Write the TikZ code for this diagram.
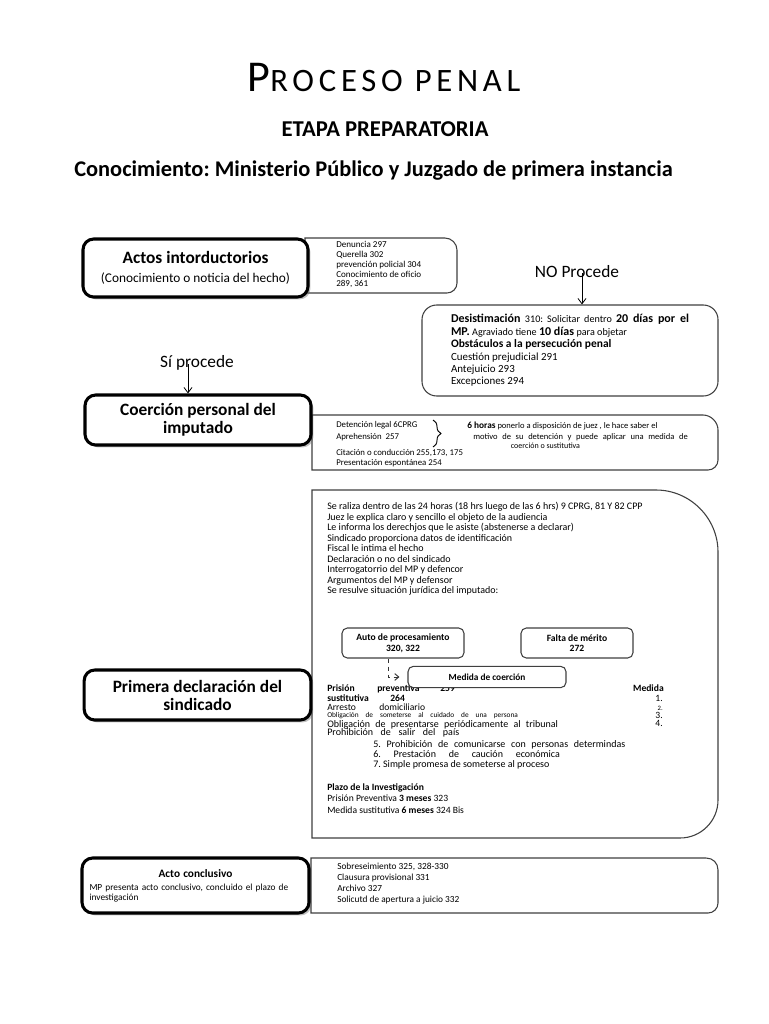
\documentclass[tikz,border=0pt]{standalone}
\usepackage{fontspec}
\setmainfont{Carlito}
\newfontfamily\titlefont[LetterSpace=14.5]{Carlito}
\usetikzlibrary{shadows,arrows.meta,decorations.pathreplacing}
\newcommand\myfs[2]{\fontsize{#1}{#2}\selectfont}
\frenchspacing
\begin{document}
\frenchspacing
\begin{tikzpicture}[x=0.75pt,y=-0.75pt,
  leftbox/.style={draw=black, line width=2.3pt, rounded corners=8pt, fill=white,
    drop shadow={shadow xshift=1.8pt, shadow yshift=-1.8pt, opacity=0.4, fill=black!60},
    align=center, inner sep=0pt},
  gline/.style={draw=black!75, line width=0.8pt},
  smallbox/.style={draw=black!75, line width=0.8pt, rounded corners=4pt, fill=white,
    align=center, inner sep=0pt, font={\bfseries\myfs{7.2}{8}}},
  txt/.style={inner sep=0pt, align=left},
  arr/.style={-{Straight Barb[length=4pt,width=6pt]}, line width=0.6pt},
  darr/.style={dashed, draw=black!80, line width=0.7pt, -{Straight Barb[length=3pt,width=5pt]}},
  pb/.style={inner sep=0pt, anchor=base west, font={\bfseries\myfs{7.2}{8}}},
  pr/.style={inner sep=0pt, anchor=base west, font=\myfs{7.2}{8}}
]
\useasboundingbox (0,0) rectangle (768,1024);
\fill[white] (0,0) rectangle (768,1024);

% titles
\node[anchor=base, inner sep=0pt] (title) at (384,92) {\titlefont\myfs{33}{33}P\myfs{24.5}{24.5}ROCESO PENAL};
\node[anchor=base, inner sep=0pt, font={\bfseries\myfs{17}{19}}] (etapa) at (385,137) {ETAPA PREPARATORIA};
\node[anchor=base, inner sep=0pt, font={\bfseries\myfs{16.8}{19}}] (conoc) at (373.5,176) {Conocimiento: Ministerio Público y Juzgado de primera instancia};

% ---------- detail boxes (drawn first) ----------
\draw[gline, fill=white] (305,238) -- (445,238) .. controls (451.5,238) and (457,243.5) .. (457,250)
  -- (457,283) .. controls (457,288.5) and (452.5,293) .. (447,293) -- (305,293) -- cycle;
\node[txt, anchor=north west, font=\myfs{6.8}{7.4}] (actoslist) at (336,241)
  {Denuncia 297\\Querella 302\\prevención policial 304\\Conocimiento de oficio\\289, 361};

\draw[gline, fill=white] (312,415) -- (703,415) .. controls (711,415) and (718,422) .. (718,430)
  -- (718,460) .. controls (718,465.5) and (713.5,470) .. (708,470) -- (312,470) -- cycle;
\node[pr, font=\myfs{6.6}{8}] (coerA1) at (336,427.5) {Detención legal 6CPRG};
\node[pr, font=\myfs{6.6}{8}] (coerA2) at (336,439.5) {Aprehensión\ \ 257};
\draw[line width=0.7pt, decorate, decoration={brace, amplitude=6pt}] (433,420) -- (433,447);
\node[pr, font=\myfs{6.4}{8}] (coerB) at (467,428)
  {{\bfseries\myfs{7}{8}6 horas} ponerlo a disposición de juez , le hace saber el};
\node[pr, font=\myfs{6.4}{8}] (coerC) at (473,439.5)
  {\makebox[161pt][s]{motivo de su detención y puede aplicar una medida de}};
\node[inner sep=0pt, anchor=base, font=\myfs{6}{8}] (coerD) at (545.5,448) {coerción o sustitutiva};
\node[pr, font=\myfs{6.6}{8}] (coerE1) at (336,455.5) {Citación o conducción 255,173, 175};
\node[pr, font=\myfs{6.6}{8}] (coerE2) at (336,465.5) {Presentación espontánea 254};

% big box
\draw[gline, fill=white] (312,490) -- (656,490) .. controls (690,490) and (718,518) .. (718,552)
  -- (718,800) .. controls (718,821) and (701,838) .. (680,838) -- (312,838) -- cycle;
\node[txt, anchor=north west, font=\myfs{7.5}{7.9}] (declist) at (327,502)
  {Se raliza dentro de las 24 horas (18 hrs luego de las 6 hrs) 9 CPRG, 81 Y 82 CPP\\
   Juez le explica claro y sencillo el objeto de la audiencia\\
   Le informa los derechjos que le asiste (abstenerse a declarar)\\
   Sindicado proporciona datos de identificación\\
   Fiscal le intima el hecho\\
   Declaración o no del sindicado\\
   Interrogatorrio del MP y defencor\\
   Argumentos del MP y defensor\\
   Se resulve situación jurídica del imputado:};

\node[smallbox, minimum width=91.5pt, minimum height=22.5pt] (auto) at (403,643) {Auto de procesamiento\\320, 322};
\node[smallbox, minimum width=84pt, minimum height=22.5pt] (falta) at (577,643) {Falta de mérito\\272};

% prision block
\node[pb] (p1a) at (327,691) {Prisión};
\node[pb] (p1b) at (377,691) {preventiva};
\node[pb] (p1c) at (440,691) {259};
\node[pb, anchor=base east] (p1d) at (664,691) {Medida};
\node[smallbox, minimum width=118.5pt, minimum height=16pt, font={\bfseries\myfs{7}{8}}] (medida) at (487,677) {Medida de coerción};
\coordinate (dx) at (388,0);
\draw[darr] (auto.south -| dx) |- ([xshift=-6pt]medida.west);

\node[pb] (p2a) at (327,701.5) {sustitutiva};
\node[pb] (p2b) at (390,701.5) {264};
\node[pr, anchor=base east] (n1) at (663,701.5) {1.};
\node[pr] (p3a) at (327,710) {Arresto};
\node[pr] (p3b) at (379,710) {domiciliario};
\node[pr, anchor=base east, font=\myfs{5}{6}] (n2) at (663,710) {2.};
\node[pr, font=\myfs{5.5}{6.5}] (p4) at (327,717.5) {\makebox[143pt][s]{Obligación de someterse al cuidado de una persona}};
\node[pr, anchor=base east] (n3) at (663,718.5) {3.};
\node[pr, font=\myfs{7.5}{8}] (p5) at (327,727) {\makebox[173pt][s]{Obligación de presentarse periódicamente al tribunal}};
\node[pr, anchor=base east] (n4) at (663,726.5) {4.};
\node[pr, font=\myfs{7.5}{8}] (p6) at (327,735.5) {\makebox[99pt][s]{Prohibición de salir del país}};
\node[pr, font=\myfs{7.5}{8}] (p7) at (373,747) {\makebox[189pt][s]{5. Prohibición de comunicarse con personas determindas}};
\node[pr, font=\myfs{7.5}{8}] (p8) at (373,757) {\makebox[140pt][s]{6. Prestación de caución económica}};
\node[pr, font=\myfs{7.5}{8}] (p9) at (373,767) {7. Simple promesa de someterse al proceso};
\node[pb] (plazo) at (327,790) {Plazo de la Investigación};
\node[pr] (plz1) at (327,801) {Prisión Preventiva \textbf{3 meses} 323};
\node[pr] (plz2) at (327,813) {Medida sustitutiva \textbf{6 meses} 324 Bis};

% acto conclusivo detail
\draw[gline, fill=white] (311,858) -- (706,858) .. controls (713,858) and (718,863) .. (718,870)
  -- (718,903) .. controls (718,908.5) and (713.5,913) .. (708,913) -- (311,913) -- cycle;
\node[txt, anchor=north west, font=\myfs{7}{8.2}] (concllist) at (337,863)
  {Sobreseimiento 325, 328-330\\Clausura provisional 331\\Archivo 327\\Solicutd de apertura a juicio 332};

% NO procede box
\node[font=\myfs{13}{15}, inner sep=1pt] (nolab) at (577,272) {NO Procede};
\node[draw=black!75, line width=0.8pt, rounded corners=11pt, minimum width=222pt, minimum height=68.25pt,
  inner sep=0pt, align=left, font=\myfs{8.2}{9.3}] (nobox) at (570,350.5)
  {\makebox[178.5pt][s]{{\bfseries\myfs{9}{9.3}Desistimación} \myfs{7.6}{9.3}310: Solicitar dentro {\bfseries\myfs{9}{9.3}20 días por el}}\\
   {\bfseries\myfs{9}{9.3}MP.} {\myfs{7.6}{9.3}Agraviado tiene} {\bfseries\myfs{9}{9.3}10 días} {\myfs{7.6}{9.3}para objetar}\\
   {\bfseries\myfs{8.6}{9.3}Obstáculos a la persecución penal}\\
   Cuestión prejudicial 291\\Antejuicio 293\\Excepciones 294};
\coordinate (noA) at (582,273);
\draw[arr] (noA) -- (noA |- nobox.north);

\node[font=\myfs{13}{15}, inner sep=1pt] (silab) at (197,363) {Sí procede};
\coordinate (siA) at (188,364);

% ---------- left boxes ----------
\node[leftbox, minimum width=168.75pt, minimum height=43.5pt] (actos) at (195.5,268)
  {{\bfseries\myfs{13}{15}Actos intorductorios}\\[2pt]{\myfs{10}{11}(Conocimiento o noticia del hecho)}};
\node[leftbox, minimum width=169.5pt, minimum height=37.5pt, font={\bfseries\myfs{13}{13.5}}] (coer) at (198,420)
  {Coerción personal del\\imputado};
\node[leftbox, minimum width=170pt, minimum height=37.5pt, font={\bfseries\myfs{13}{13.5}}] (decl) at (197.5,695)
  {Primera declaración del\\sindicado};
\node[leftbox, minimum width=170.25pt, minimum height=41.25pt, text width=159pt, align=left, font=\myfs{7}{7.5}] (concl) at (195.5,885.5)
  {\centerline{\bfseries\myfs{8.5}{10}Acto conclusivo}\\[2.5pt]
   \makebox[159pt][s]{MP presenta acto conclusivo, concluido el plazo de}\\investigación};

\draw[arr] (siA) -- (siA |- coer.north);
\end{tikzpicture}
\end{document}
